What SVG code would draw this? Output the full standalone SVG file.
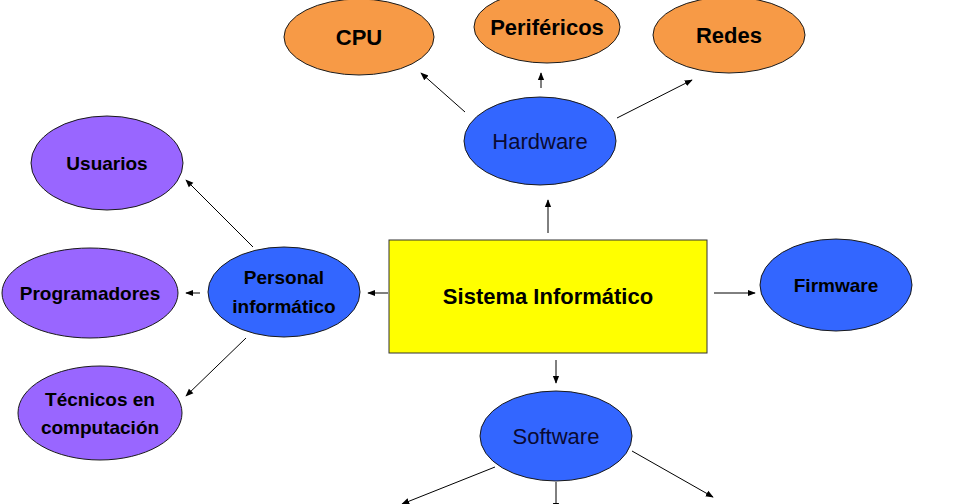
<svg xmlns="http://www.w3.org/2000/svg" width="960" height="504" viewBox="0 0 960 504">
<defs><marker id="a" viewBox="0 0 10 10" refX="9" refY="5" markerWidth="8" markerHeight="8" orient="auto"><path d="M0,1 L10,5 L0,9 z" fill="#000"/></marker></defs>
<style>
ellipse{stroke:#1a1a1a;stroke-width:1}
.o{fill:#F79A46}.p{fill:#9966FF}.b{fill:#3366FF}
text{font-family:"Liberation Sans",Arial,sans-serif;font-weight:bold;text-anchor:middle;fill:#000}
.n{font-weight:normal;fill:#0a0a33}
#c line{stroke:#000;stroke-width:1;marker-end:url(#a)}
</style>
<rect width="960" height="504" fill="#fff"/>
<g id="c">
<line x1="465" y1="112" x2="421" y2="73"/>
<line x1="541" y1="88" x2="541" y2="73"/>
<line x1="617" y1="118" x2="692" y2="80"/>
<line x1="548" y1="233" x2="548" y2="200"/>
<line x1="388" y1="293" x2="368" y2="293"/>
<line x1="253" y1="247" x2="186" y2="180"/>
<line x1="200" y1="293" x2="186" y2="293"/>
<line x1="246" y1="338" x2="186" y2="396"/>
<line x1="714" y1="293" x2="755" y2="293"/>
<line x1="556" y1="360" x2="556" y2="383"/>
<line x1="495" y1="467" x2="402" y2="504"/>
<line x1="556" y1="482" x2="556" y2="510"/>
<line x1="632" y1="451" x2="713" y2="497"/>
</g>
<g id="cpu"><ellipse class="o" cx="359" cy="37" rx="75" ry="38"/><text x="359" y="45" font-size="22">CPU</text></g>
<g id="perifericos"><ellipse class="o" cx="547" cy="27" rx="73" ry="36"/><text x="547" y="35" font-size="22">Periféricos</text></g>
<g id="redes"><ellipse class="o" cx="729" cy="35" rx="76" ry="38"/><text x="729" y="43" font-size="22">Redes</text></g>
<g id="hardware"><ellipse class="b" cx="540" cy="141" rx="76" ry="44"/><text class="n" x="540" y="149" font-size="22">Hardware</text></g>
<g id="usuarios"><ellipse class="p" cx="107" cy="163" rx="76" ry="47"/><text x="107" y="170" font-size="19">Usuarios</text></g>
<g id="programadores"><ellipse class="p" cx="90" cy="293" rx="88" ry="45"/><text x="90" y="300" font-size="19">Programadores</text></g>
<g id="tecnicos"><ellipse class="p" cx="100" cy="413" rx="82" ry="47"/><text x="100" y="406" font-size="19">Técnicos en</text><text x="100" y="434" font-size="19">computación</text></g>
<g id="personal"><ellipse class="b" cx="284" cy="292" rx="76" ry="45"/><text x="284" y="284" font-size="19">Personal</text><text x="284" y="313" font-size="19">informático</text></g>
<g id="sistema"><rect x="389" y="240" width="318" height="113" fill="#FFFF00" stroke="#333"/><text x="548" y="304" font-size="22">Sistema Informático</text></g>
<g id="firmware"><ellipse class="b" cx="836" cy="285" rx="76" ry="46"/><text x="836" y="292" font-size="19">Firmware</text></g>
<g id="software"><ellipse class="b" cx="556" cy="436" rx="76" ry="45"/><text class="n" x="556" y="444" font-size="22">Software</text></g>
</svg>
